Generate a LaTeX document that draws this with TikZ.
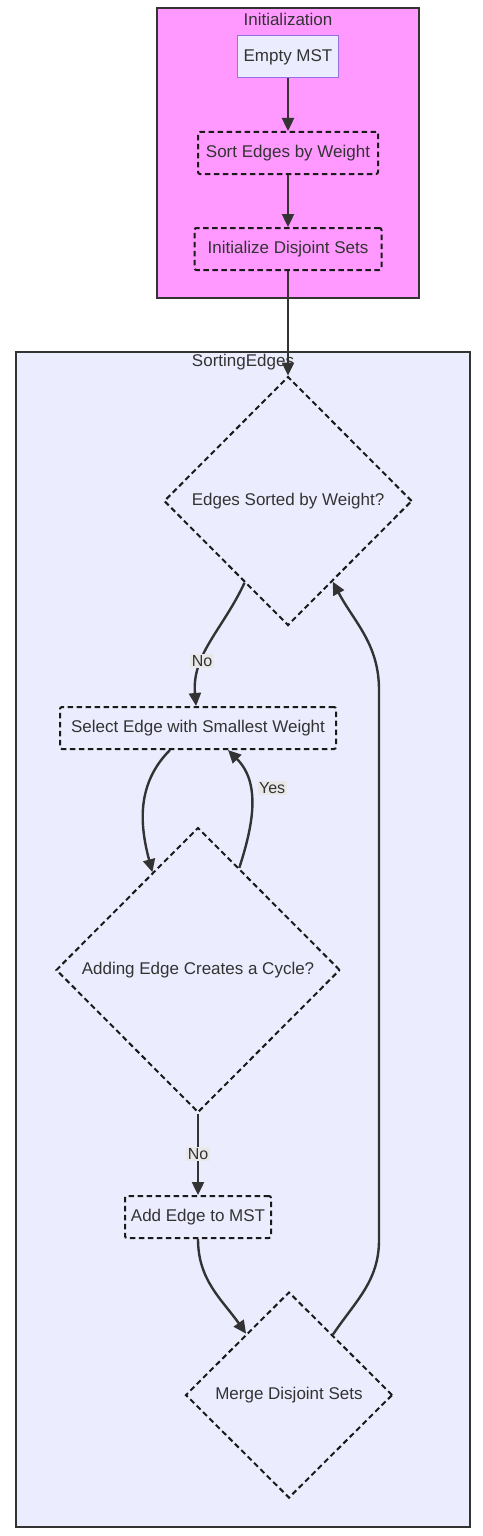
\documentclass[tikz,border=0pt]{standalone}
\usepackage{fontspec}
\setmainfont{Liberation Sans}
\usetikzlibrary{positioning,shapes.geometric,arrows.meta}
\definecolor{txt}{HTML}{333333}
\definecolor{ln}{HTML}{333333}
\definecolor{dsh}{HTML}{1A1A1A}
\definecolor{lblbg}{HTML}{E8E8E8}
\definecolor{pink}{HTML}{FF99FF}
\definecolor{lav}{HTML}{ECECFF}
\definecolor{purp}{HTML}{9370DB}

\begin{document}
\begin{tikzpicture}[x=1pt,y=-1pt,node distance=96pt,on grid,
	font=\fontsize{17}{20}\selectfont,text=txt,
	box/.style={draw=dsh,line width=2pt,dash pattern=on 5.5pt off 3.5pt,rounded corners=2pt,minimum height=42pt},
	dec/.style={diamond,draw=dsh,line width=2pt,dash pattern=on 5.5pt off 3.5pt,inner sep=0pt},
	lbl/.style={fill=lblbg,inner sep=1.5pt,font=\fontsize{16}{19}\selectfont},
	cl/.style={draw=ln,line width=2pt},
	flow/.style={draw=ln,line width=2.4pt,-{Triangle[length=13pt,width=12pt]}}]
	\useasboundingbox (0,0) rectangle (482,1536);
	% clusters
	\draw[cl,fill=pink] (157,8) rectangle (419,298);
	\node (t1) at (288,19) {Initialization};
	\draw[cl,fill=lav] (16,352) rectangle (470,1527);
	\node (t2) at (243,362) {SortingEdges};
	% steps
	\node[draw=purp,fill=lav,line width=1pt,minimum width=101pt,minimum height=42pt] (mst) at (288,57) {Empty MST};
	\node[box,minimum width=180pt] (srt) [below=of mst] {Sort Edges by Weight};
	\node[box,minimum width=187pt] (ini) [below=of srt] {Initialize Disjoint Sets};
	\node[dec,minimum width=248pt,minimum height=249pt] (d1) [below=252pt of ini] {Edges Sorted by Weight?};
	\node[box,minimum width=276pt] (sel) [below left=227pt and 90pt of d1] {Select Edge with Smallest Weight};
	\node[dec,minimum width=284pt,minimum height=285pt] (d2) [below=242pt of sel] {Adding Edge Creates a Cycle?};
	\node[box,minimum width=146pt] (add) [below=247pt of d2] {Add Edge to MST};
	\node[dec,minimum width=207pt,minimum height=206pt] (d3) [below right=178pt and 91pt of add] {Merge Disjoint Sets};
	\coordinate (selL) at ([xshift=-28pt]sel.south);
	\coordinate (selR) at ([xshift=30pt]sel.south);
	\coordinate (rt1) at (379,1240);
	\coordinate (rt2) at (379,690);
	% connectors
	\draw[flow] (mst) -- (srt);
	\draw[flow] (srt) -- (ini);
	\draw[flow] (ini) -- (d1);
	\draw[flow] (d1.242) to[out=245,in=95] node[lbl,pos=0.66] {No} (sel);
	\draw[flow] (selL) to[out=225,in=105] (d2.115);
	\draw[flow] (d2.68) to[out=72,in=-45] node[lbl,pos=0.64,right=7pt] {Yes} (selR);
	\draw[flow] (d2) -- node[lbl] {No} (add);
	\draw[flow] (add) to[out=-90,in=125] (d3.125);
	\draw[flow] (d3.54) to[out=56,in=-90] (rt1) -- (rt2) to[out=90,in=-62] (d1.299);
\end{tikzpicture}
\end{document}
